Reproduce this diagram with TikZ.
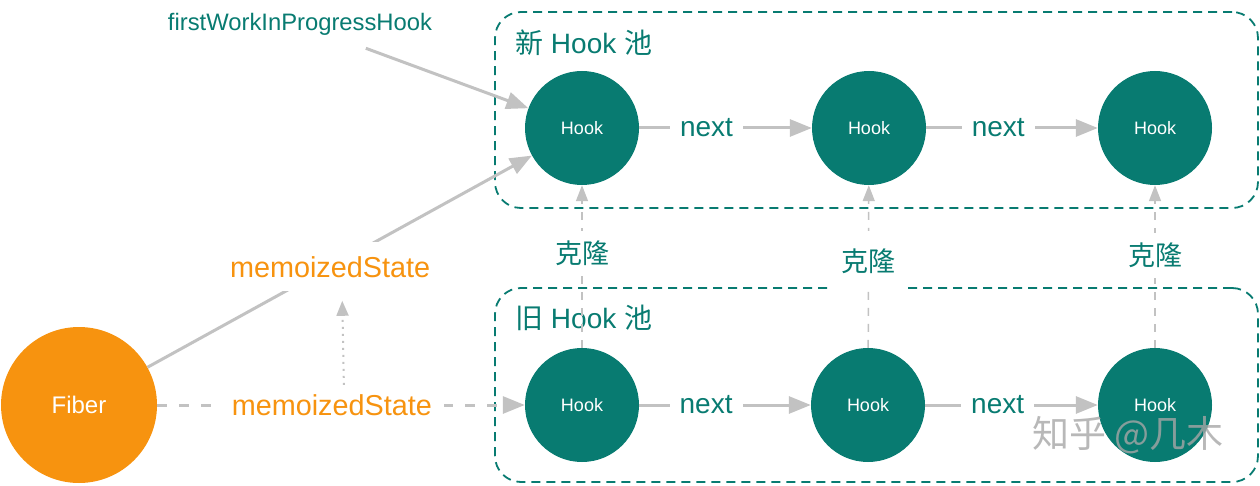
\documentclass[tikz,border=0pt]{standalone}
\usepackage{fontspec}
\setmainfont{Liberation Sans}
\newfontfamily\cjk{Noto Sans CJK SC}
\usetikzlibrary{arrows.meta,positioning}
\definecolor{hookteal}{HTML}{087B71}
\definecolor{fiberorange}{HTML}{F7930F}
\definecolor{arrowgray}{HTML}{C2C2C2}

\begin{document}
\begin{tikzpicture}[x=1pt,y=-1pt,
  hook/.style={circle,fill=hookteal,minimum size=114pt,inner sep=0pt,text=white,font=\fontsize{18}{20}\selectfont},
  fiber/.style={circle,fill=fiberorange,minimum size=156pt,inner sep=0pt,text=white,font=\fontsize{24}{26}\selectfont},
  pool/.style={draw=hookteal,line width=1.8pt,dash pattern=on 9pt off 6pt,rounded corners=26pt,minimum width=763pt,inner sep=0pt},
  pooltitle/.style={text=hookteal,font=\fontsize{28}{32}\selectfont,anchor=west,inner sep=0pt},
  link/.style={draw=arrowgray,line width=3pt,-{Triangle[length=22pt,width=17pt]}},
  nextlabel/.style={fill=white,text=hookteal,font=\fontsize{28}{32}\selectfont,inner xsep=10pt},
  clone/.style={draw=arrowgray,line width=1.5pt,dash pattern=on 8pt off 8pt,-{Triangle[length=16pt,width=12pt]}},
  clonelabel/.style={fill=white,text=hookteal,font=\cjk\fontsize{27}{30}\selectfont,inner xsep=11pt,inner ysep=10pt},
  statelabel/.style={fill=white,text=fiberorange,font=\fontsize{28.8}{32}\selectfont,inner sep=12pt},
  dotlink/.style={draw=arrowgray,line width=2pt,dash pattern=on 2pt off 5pt,-{Triangle[length=15pt,width=12pt]}},
]
\useasboundingbox (0,0) rectangle (1260,486);

% the two hook pools
\node[pool,minimum height=196pt] (newpool) at (876.5,110) {};
\node[pool,minimum height=194pt] (oldpool) at (876.5,385) {};
\node[pooltitle] (newtitle) at (515,43) {{\cjk 新} Hook {\cjk 池}};
\node[pooltitle] (oldtitle) at (515,318) {{\cjk 旧} Hook {\cjk 池}};

% nodes
\node[fiber] (fiber) at (79,405) {Fiber};
\node[hook] (new1) at (582,128) {Hook};
\node[hook] (new2) at (869,128) {Hook};
\node[hook] (new3) at (1155,128) {Hook};
\node[hook] (old1) at (582,405) {Hook};
\node[hook] (old2) at (868,405) {Hook};
\node[hook] (old3) at (1155,405) {Hook};
\node[text=hookteal,font=\fontsize{23.8}{26}\selectfont,inner xsep=4pt,inner ysep=13pt] (fwip) at (300,24) {firstWorkInProgressHook};

% next links
\draw[link] (new1) -- node[nextlabel,pos=0.39] {next} (new2);
\draw[link] (new2) -- node[nextlabel,pos=0.42] {next} (new3);
\draw[link] (old1) -- node[nextlabel,pos=0.39] {next} (old2);
\draw[link] (old2) -- node[nextlabel,pos=0.42] {next} (old3);

% cloning
\draw[clone] (old1) -- node[clonelabel,pos=0.58] {克隆} (new1);
\draw[clone] (old2) -- node[clonelabel,pos=0.534,minimum height=60pt,minimum width=76pt] {克隆} (new2);
\draw[clone] (old3) -- node[clonelabel,pos=0.57] {克隆} (new3);

% memoizedState
\draw[link] (fwip) -- (new1);
\draw[link] (fiber) -- node[statelabel,pos=0.475,inner ysep=14pt] (msnew) {memoizedState} (new1);
\draw[link,dash pattern=on 10pt off 12pt] (fiber) -- node[statelabel,pos=0.475] (msold) {memoizedState} (old1);
\draw[dotlink,shorten <=-4pt,shorten >=8pt] ([xshift=12pt]msold.north) -- ([xshift=12pt]msnew.south);

% watermark
\node[font=\cjk\fontsize{37}{40}\selectfont,text=black!35,opacity=0.8] (mark) at (1128,435) {知乎 @几木};
\end{tikzpicture}
\end{document}
